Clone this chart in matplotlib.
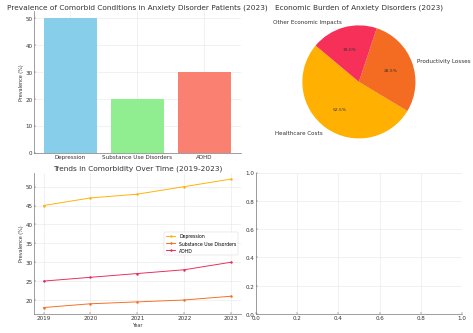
import matplotlib as mpl
mpl.use('Agg')
import matplotlib.pyplot as plt

# data
conditions = ['Depression', 'Substance Use Disorders', 'ADHD']
prevalence = [50, 20, 30]

burden_labels = ['Healthcare Costs', 'Productivity Losses', 'Other Economic Impacts']
burden_share = [52.5, 28.5, 19.0]

years = [2019, 2020, 2021, 2022, 2023]
dep_trend = [45, 47, 48, 50, 52]
sud_trend = [18, 19, 19.5, 20, 21]
adhd_trend = [25, 26, 27, 28, 30]

plt.rcParams.update({
    'font.size': 12,
    'axes.edgecolor': '#777777',
    'axes.labelcolor': '#333333',
    'axes.labelsize': 10.5,
    'xtick.color': '#333333',
    'ytick.color': '#333333',
    'xtick.labelsize': 12,
    'ytick.labelsize': 12,
    'axes.grid': True,
    'grid.color': '#e6e6e6',
    'grid.linewidth': 1.2,
    'axes.spines.top': False,
    'axes.spines.right': False,
    'axes.linewidth': 1.5,
    'xtick.major.size': 4,
    'ytick.major.size': 4,
    'xtick.direction': 'in',
    'ytick.direction': 'in',
})

fig, axs = plt.subplots(2, 2, figsize=(14.2, 10), dpi=33.38)
fig.subplots_adjust(left=0.072, right=0.975, bottom=0.057, top=0.964, wspace=0.073, hspace=0.142)

# bar chart
ax = axs[0, 0]
ax.bar(conditions, prevalence, color=['skyblue', 'lightgreen', 'salmon'], width=0.8)
ax.set_title('Prevalence of Comorbid Conditions in Anxiety Disorder Patients (2023)', fontsize=16, color='#333333')
ax.set_ylabel('Prevalence (%)')
ax.set_axisbelow(True)

# pie chart
ax = axs[0, 1]
wedges, texts, autotexts = ax.pie(burden_share, labels=burden_labels, autopct='%1.1f%%', startangle=140,
                                  colors=['#ffb000', '#f46b22', '#f7305a'],
                                  textprops={'color': '#333333', 'fontsize': 12})
for t in autotexts:
    t.set_fontsize(9.5)
ax.set_title('Economic Burden of Anxiety Disorders (2023)', fontsize=16, color='#333333')

# trend lines
ax = axs[1, 0]
ax.plot(years, dep_trend, marker='o', markersize=4, color='#ffb000', label='Depression', linewidth=2)
ax.plot(years, sud_trend, marker='o', markersize=4, color='#f46b22', label='Substance Use Disorders', linewidth=2)
ax.plot(years, adhd_trend, marker='o', markersize=4, color='#e8285a', label='ADHD', linewidth=2)
ax.set_title('Trends in Comorbidity Over Time (2019-2023)', fontsize=16, color='#333333')
ax.set_xlabel('Year')
ax.set_ylabel('Prevalence (%)')
ax.set_xticks(years)
ax.legend(loc='center right', fontsize=10)

# empty
ax = axs[1, 1]

plt.savefig('out.png')
plt.close()
